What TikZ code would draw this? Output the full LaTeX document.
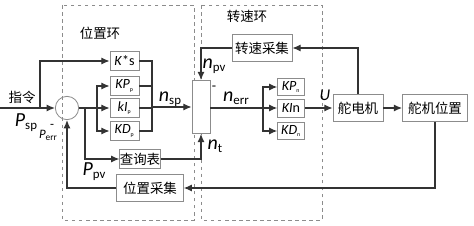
\documentclass[tikz,border=0pt]{standalone}
\usepackage{fontspec}
\setmainfont{Carlito}
\newfontfamily\cjk{Noto Sans CJK SC}
\usepackage{tikz}
\usetikzlibrary{arrows.meta}
\tikzstyle{block} = [rectangle, draw=black!45, line width=0.7pt, fill=white, inner sep=0pt, font=\fontsize{12}{12}\selectfont]
\tikzstyle{gain} = [block, minimum width=0.87cm, minimum height=0.56cm]
\tikzstyle{unit} = [block, minimum height=0.81cm, font=\cjk\fontsize{11.5}{11.5}\selectfont]
\tikzstyle{loopbox} = [draw=black!45, dashed, line width=0.6pt]
\tikzstyle{arrow} = [line width=1pt, draw=black!80, -{Latex[length=7pt,width=6pt]}]
\tikzstyle{line} = [line width=1pt, draw=black!80]
\tikzstyle{sig} = [inner sep=0pt, font=\fontsize{17}{17}\selectfont]
\newcommand{\sgl}[2]{\textit{#1}\raisebox{-0.3ex}{\fontsize{11}{11}\selectfont #2}}

\begin{document}
\begin{tikzpicture}[x=0.03cm, y=-0.03cm]
    \useasboundingbox (0,0) rectangle (474,226);
    % loop frames
    \draw [loopbox] (62,5) rectangle (194,220);
    \draw [loopbox] (201,5) rectangle (322,220);
    \node [font=\cjk\fontsize{11.5}{11.5}\selectfont] at (100,33) {位置环};
    \node [font=\cjk\fontsize{11.5}{11.5}\selectfont] at (247,16) {转速环};

    \node (sum) [circle, draw=black!45, line width=0.7pt, minimum size=0.7cm, inner sep=0pt] at (67,108) {};
    \node (ks) [gain] at (124.5,61) {\textit{K}*s};
    \node (kpp) [gain] at (124.5,86) {\textit{KP}\textsubscript{\tiny p}};
    \node (kip) [gain] at (124.5,108) {\textit{kI}\textsubscript{\tiny p}};
    \node (kdp) [gain] at (124.5,131) {\textit{KD}\textsubscript{\tiny p}};
    \node (table) [unit, minimum width=1.02cm, minimum height=0.56cm] at (140,159) {查询表};
    \node (possense) [unit, minimum width=2.0cm] at (150,188) {位置采集};
    \node (nsum) [block, minimum width=0.54cm, minimum height=1.59cm] at (201,107) {};
    \node (spdsense) [unit, minimum width=1.8cm] at (262,48) {转速采集};
    \node (kpn) [gain, minimum width=0.8cm, minimum height=0.5cm] at (291,87) {\textit{KP}\textsubscript{\tiny n}};
    \node (kin) [gain, minimum width=0.8cm, minimum height=0.54cm] at (291,108) {\textit{KI}n};
    \node (kdn) [gain, minimum width=0.8cm, minimum height=0.5cm] at (291,131) {\textit{KD}\textsubscript{\tiny n}};
    \node (motor) [unit, minimum width=1.5cm] at (358,108) {舵电机};
    \node (pos) [unit, minimum width=1.95cm] at (435,108) {舵机位置};

    \coordinate (in) at (0,108);
    \coordinate (split) at (40,108);
    \coordinate (fork) at (97,108);
    \coordinate (tap) at (85,108);
    \coordinate (bus) at (152,107);
    \coordinate (nfork) at (263,108);

    % position loop
    \draw [arrow] (in) -- (sum);
    \draw [arrow] (split) |- (ks);
    \draw [line] (sum) -- (fork);
    \draw [arrow] (fork) |- (kpp);
    \draw [arrow] (fork) -- (kip);
    \draw [arrow] (fork) |- (kdp);
    \draw [arrow] (tap) |- (table);
    \draw [line] (ks.east) -| (bus) |- (kdp.east);
    \draw [line] (kpp.east) -- (kpp.east -| bus);
    \draw [line] (kip.east) -- (kip.east -| bus);
    \draw [arrow] (bus) -- (nsum);
    \draw [arrow] (possense) -| (sum);

    % speed loop
    \draw [arrow] (spdsense) -| (nsum);
    \draw [arrow] (table) -| (nsum);
    \draw [line] (nsum.east |- nfork) -- (nfork);
    \draw [arrow] (nfork) |- (kpn);
    \draw [arrow] (nfork) -- (kin);
    \draw [arrow] (nfork) |- (kdn);
    \draw [arrow] (kin) -- (motor);
    \draw [arrow] (motor) -- (pos);
    \draw [arrow] (motor.north) |- (spdsense);
    \draw [arrow] (pos.south) |- (possense);

    % signal labels
    \node [font=\cjk\fontsize{11.5}{11.5}\selectfont] at (22,97) {指令};
    \node [sig] at (26,123) {\sgl{P}{sp}};
    \node [sig, font=\fontsize{11}{11}\selectfont] at (48,135) {\sgl{P}{\fontsize{8}{8}\selectfont err}};
    \node [font=\fontsize{11}{11}\selectfont] at (52,126) {-};
    \node [sig] at (94,172) {\sgl{P}{pv}};
    \node [sig] at (170,99) {\sgl{n}{sp}};
    \node [sig] at (214,66) {\sgl{n}{pv}};
    \node [font=\fontsize{12}{12}\selectfont] at (214,88) {-};
    \node [sig] at (215,146) {\sgl{n}{t}};
    \node [sig] at (236,98) {\sgl{n}{err}};
    \node [sig, font=\fontsize{14}{14}\selectfont] at (325,95) {\textit{U}};
\end{tikzpicture}
\end{document}
